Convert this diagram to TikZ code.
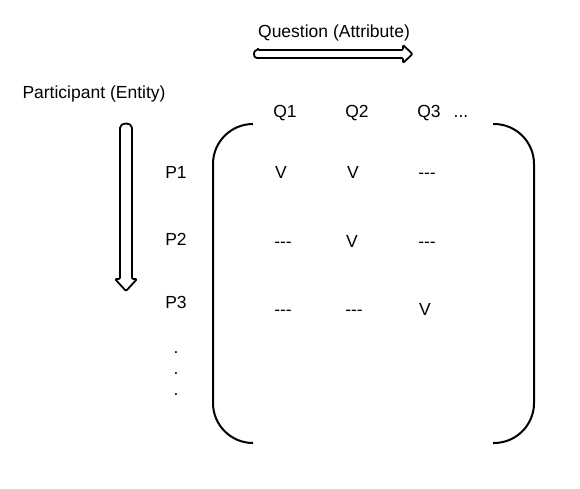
\documentclass[tikz,border=0pt]{standalone}
\usepackage{fontspec}
\setmainfont{Liberation Sans}
\newcommand{\dashes}{-\kern0pt-\kern0pt-}
\begin{document}
\begin{tikzpicture}[x=1pt,y=-1pt,
  lbl/.style={anchor=base,inner sep=0pt,font=\fontsize{17.5}{20}\selectfont},
  brk/.style={line width=2pt,rounded corners=40pt},
  harrow/.style={line width=1.8pt,rounded corners=1.2pt,line join=round}]
\useasboundingbox (0,0) rectangle (580,488);
% titles
\node[lbl] (qa) at (334,37) {Question (Attribute)};
\node[lbl] (pe) at (94,98) {Participant (Entity)};
% arrows
\draw[harrow] (258,50) -- (403,50) -- (403,45) -- (412.5,54) -- (403,63) -- (403,58) -- (258,58)
  .. controls (253,58) and (253,50) .. (258,50) -- cycle;
\draw[harrow] (120,279) -- (120,129) .. controls (120,122) and (132,122) .. (132,129)
  -- (132,279) -- (137,279) -- (126,291) -- (115,279) -- cycle;
% brackets
\draw[brk] (253,124) -- (213,124) -- (213,443) -- (253,443);
\draw[brk] (493,124) -- (534,124) -- (534,443) -- (493,443);
% column headers
\node[lbl] (q1) at (285,117) {Q1};
\node[lbl] (q2) at (357,117) {Q2};
\node[lbl] (q3) at (429,117) {Q3};
\node[lbl] (qd) at (461,117) {...};
% row labels
\node[lbl] (p1) at (176,178) {P1};
\node[lbl] (p2) at (176,245) {P2};
\node[lbl] (p3) at (176,308) {P3};
\node[lbl] (d1) at (176,353) {.};
\node[lbl] (d2) at (176,374) {.};
\node[lbl] (d3) at (176,395) {.};
% entries
\node[lbl] (a11) at (281,178) {V};
\node[lbl] (a12) at (353,178) {V};
\node[lbl] (a13) at (427,178) {\dashes};
\node[lbl] (a21) at (283,247) {\dashes};
\node[lbl] (a22) at (352,247) {V};
\node[lbl] (a23) at (427,247) {\dashes};
\node[lbl] (a31) at (283,315) {\dashes};
\node[lbl] (a32) at (354,315) {\dashes};
\node[lbl] (a33) at (425,315) {V};
\end{tikzpicture}
\end{document}
